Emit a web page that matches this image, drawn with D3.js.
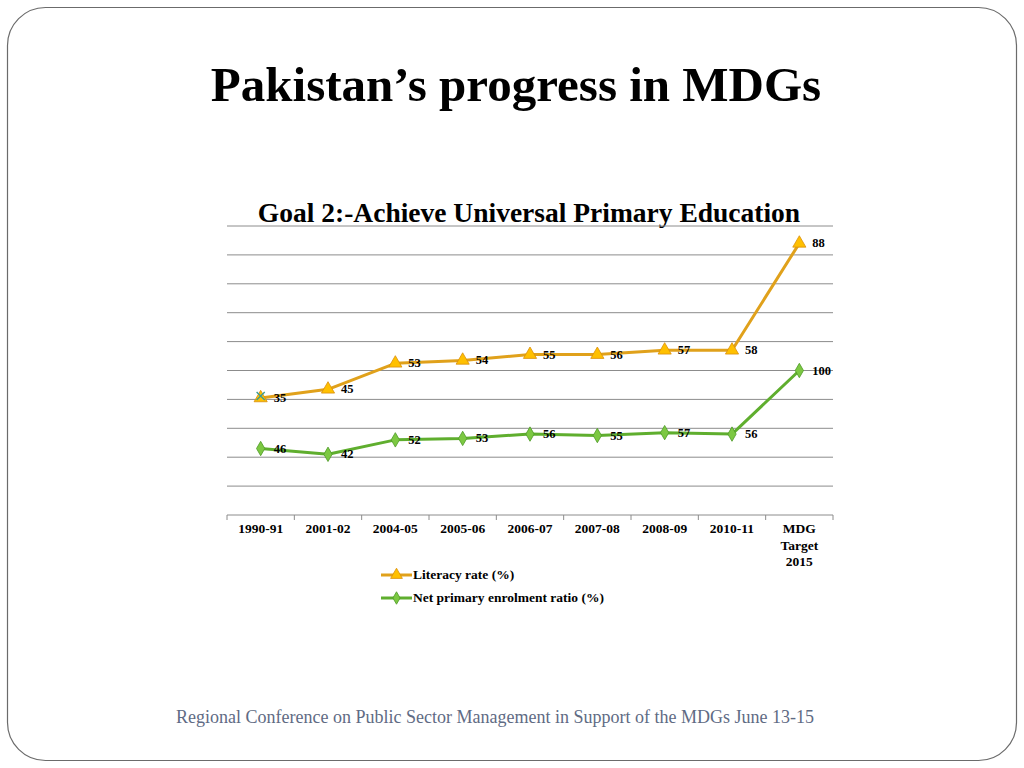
<!DOCTYPE html>
<html>
<head>
<meta charset="utf-8">
<script src="https://cdn.jsdelivr.net/npm/d3@7"></script>
<style>
  html, body { margin: 0; padding: 0; background: #fff; }
  svg { display: block; }
</style>
</head>
<body>
<script>
// ---- data ----
const categories = ["1990-91", "2001-02", "2004-05", "2005-06", "2006-07", "2007-08", "2008-09", "2010-11", "MDG Target 2015"];
const literacy = [35, 45, 53, 54, 55, 56, 57, 58, 88];
const enrolment = [46, 42, 52, 53, 56, 55, 57, 56, 100];
const seriesNames = ["Literacy rate (%)", "Net primary enrolment ratio (%)"];
const yTicks = [0, 20, 40, 60, 80, 100, 120, 140, 160, 180, 200];

const W = 1024, H = 768;
const svg = d3.select("body").append("svg").attr("width", W).attr("height", H);
const serif = "'Liberation Serif', 'Times New Roman', serif";

// slide border
svg.append("rect").attr("x", 7.5).attr("y", 7.5).attr("width", 1009).attr("height", 753)
  .attr("rx", 38).attr("ry", 38).attr("fill", "none").attr("stroke", "#6b6b6b").attr("stroke-width", 1.2);

// titles
svg.append("text").attr("x", 516).attr("y", 101).attr("text-anchor", "middle")
  .attr("font-family", serif).attr("font-weight", "bold").attr("font-size", 49).attr("fill", "#000")
  .text("Pakistan’s progress in MDGs");
svg.append("text").attr("x", 529).attr("y", 222).attr("text-anchor", "middle")
  .attr("font-family", serif).attr("font-weight", "bold").attr("font-size", 27.5).attr("fill", "#000")
  .text("Goal 2:-Achieve Universal Primary Education");

// footer
svg.append("text").attr("x", 495).attr("y", 723).attr("text-anchor", "middle")
  .attr("font-family", serif).attr("font-size", 18).attr("fill", "#5f6b84")
  .text("Regional Conference on Public Sector Management in Support of the MDGs June 13-15");

// scales
const x = d3.scaleBand().domain(categories).range([227, 833]).padding(0);
const y = d3.scaleLinear().domain([0, 200]).range([515, 226]);

// stacked (Excel stacked line): enrolment bottom, literacy on top
const table = categories.map((c, i) => ({ cat: c, lit: literacy[i], enr: enrolment[i] }));
const stacked = d3.stack().keys(["enr", "lit"])(table);

// gridlines
svg.append("g").selectAll("line").data(yTicks.filter(t => t > 0)).join("line")
  .attr("x1", 227).attr("x2", 833)
  .attr("y1", d => y(d)).attr("y2", d => y(d))
  .attr("stroke", "#8c8c8c").attr("stroke-width", 1);

// x axis
const xAxis = svg.append("g").attr("transform", `translate(0,${y(0)})`);
xAxis.append("line").attr("x1", 227).attr("x2", 833).attr("stroke", "#8c8c8c").attr("stroke-width", 1);
const bounds = categories.map(c => x(c)).concat([x(categories[categories.length - 1]) + x.bandwidth()]);
xAxis.selectAll("line.tick").data(bounds).join("line").attr("class", "tick")
  .attr("x1", d => d).attr("x2", d => d).attr("y1", 0).attr("y2", 5)
  .attr("stroke", "#8c8c8c").attr("stroke-width", 1);
const tl = xAxis.selectAll("text").data(categories).join("text")
  .attr("x", d => x(d) + x.bandwidth() / 2).attr("y", 18)
  .attr("text-anchor", "middle").attr("font-family", serif).attr("font-weight", "bold")
  .attr("font-size", 13.5).attr("fill", "#000");
tl.each(function (d) {
  const t = d3.select(this);
  const parts = d === "MDG Target 2015" ? ["MDG", "Target", "2015"] : [d];
  parts.forEach((p, k) => t.append("tspan").attr("x", x(d) + x.bandwidth() / 2).attr("dy", k === 0 ? 0 : 16.5).text(p));
});

const litColor = "#E0A11B", litFill = "#FFC000", litStroke = "#D98E0B";
const enrColor = "#5FAE2E", enrFill = "#7CC842", enrStroke = "#4E9A27";
const cx = c => x(c) + x.bandwidth() / 2;

const line = d3.line().x(d => cx(d.data.cat)).y(d => y(d[1]));

function drawSeries(layer, color, fill, stroke, symType, symSize, values) {
  svg.append("path").datum(layer).attr("d", line)
    .attr("fill", "none").attr("stroke", color).attr("stroke-width", 3).attr("stroke-linejoin", "round");
  svg.append("g").selectAll("path").data(layer).join("path")
    .attr("transform", d => `translate(${cx(d.data.cat)},${y(d[1])})`)
    .attr("d", d3.symbol().type(symType).size(symSize))
    .attr("fill", fill).attr("stroke", stroke).attr("stroke-width", 0.8);
  svg.append("g").selectAll("text").data(layer).join("text")
    .attr("x", d => cx(d.data.cat) + 13).attr("y", d => y(d[1]) + 4)
    .attr("font-family", serif).attr("font-weight", "bold").attr("font-size", 12.5).attr("fill", "#000")
    .text((d, i) => values[i]);
}

drawSeries(stacked[0], enrColor, enrFill, enrStroke, d3.symbolDiamond, 60, enrolment);
drawSeries(stacked[1], litColor, litFill, litStroke, d3.symbolTriangle, 75, literacy);

// stray "x" marker at the first literacy point (as in the original)
const p0 = stacked[1][0];
svg.append("path").attr("transform", `translate(${cx(p0.data.cat)},${y(p0[1]) - 2})`)
  .attr("d", d3.symbol().type(d3.symbolX).size(45))
  .attr("fill", "none").attr("stroke", "#3d9a95").attr("stroke-width", 1.4);

// legend
const legend = svg.append("g");
const legendItems = [
  { name: seriesNames[0], color: litColor, fill: litFill, stroke: litStroke, sym: d3.symbolTriangle, size: 60, y: 575 },
  { name: seriesNames[1], color: enrColor, fill: enrFill, stroke: enrStroke, sym: d3.symbolDiamond, size: 45, y: 598 }
];
legendItems.forEach(it => {
  legend.append("line").attr("x1", 381).attr("x2", 412).attr("y1", it.y).attr("y2", it.y)
    .attr("stroke", it.color).attr("stroke-width", 3);
  legend.append("path").attr("transform", `translate(396.5,${it.y})`)
    .attr("d", d3.symbol().type(it.sym).size(it.size))
    .attr("fill", it.fill).attr("stroke", it.stroke).attr("stroke-width", 0.8);
  legend.append("text").attr("x", 413).attr("y", it.y + 4)
    .attr("font-family", serif).attr("font-weight", "bold").attr("font-size", 13.5).attr("fill", "#000")
    .text(it.name);
});
</script>
</body>
</html>
